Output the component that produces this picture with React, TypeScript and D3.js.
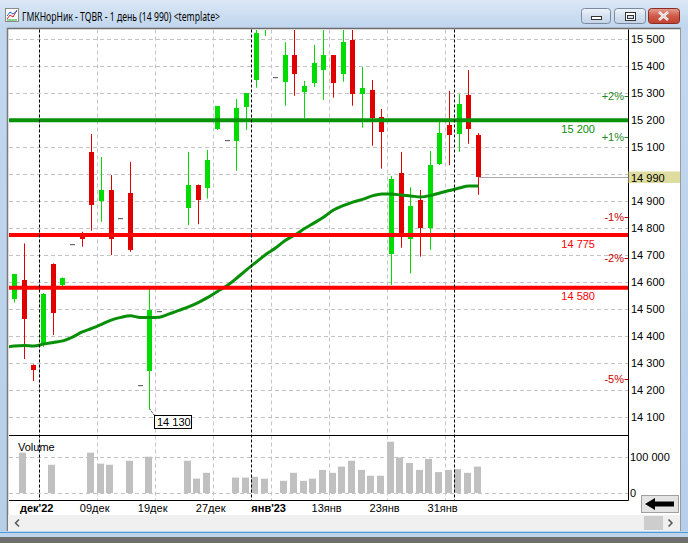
import React from "react";
import * as d3 from "d3";

// ---------- data ----------
const dates = [
  "2022-11-28", "2022-11-29", "2022-11-30", "2022-12-01", "2022-12-02", "2022-12-05", "2022-12-06",
  "2022-12-07", "2022-12-08", "2022-12-09", "2022-12-12", "2022-12-13", "2022-12-14", "2022-12-15",
  "2022-12-16", "2022-12-19", "2022-12-20", "2022-12-21", "2022-12-22", "2022-12-23", "2022-12-26",
  "2022-12-27", "2022-12-28", "2022-12-29", "2022-12-30", "2023-01-03", "2023-01-04", "2023-01-05",
  "2023-01-06", "2023-01-09", "2023-01-10", "2023-01-11", "2023-01-12", "2023-01-13", "2023-01-16",
  "2023-01-17", "2023-01-18", "2023-01-19", "2023-01-20", "2023-01-23", "2023-01-24", "2023-01-25",
  "2023-01-26", "2023-01-27", "2023-01-30", "2023-01-31", "2023-02-01", "2023-02-02", "2023-02-03",
];
const openPrices = [
  14538, 14608, 14294, 14371, 14668, 14590, 14742, 14771, 15083, 14902, 14942, 14837, 14931, 14220,
  14271, 14494, null, null, 14876, 14960, 14950, 15169, 15126, 15124, 15250, 15350, 15580, 15359,
  15343, 15442, 15306, 15339, 15387, 15442, 15373, 15497, 15299, 15312, 15212, 14704, 15005, 14761,
  14905, 14802, 15039, 15183, 15150, 15294, 15146,
];
const highPrices = [
  14631, 14744, 14296, 14560, 14670, 14618, 14742, 14787, 15149, 15064, 14997, 14837, 15046, 14220,
  14578, 14494, null, null, 15083, 14962, 15090, 15253, 15126, 15279, 15301, 15560, 15650, 15359,
  15489, 15600, 15346, 15479, 15600, 15442, 15600, 15600, 15397, 15349, 15242, 14994, 15083, 14952,
  14942, 15086, 15195, 15309, 15297, 15386, 15153,
];
const lowPrices = [
  14525, 14316, 14234, 14361, 14405, 14574, 14742, 14732, 14791, 14824, 14701, 14837, 14713, 14220,
  14130, 14494, null, null, 14812, 14815, 14910, 15164, 15126, 15013, 15164, 15321, 15512, 15359,
  15254, 15291, 15207, 15324, 15275, 15284, 15343, 15254, 15173, 15106, 15021, 14590, 14728, 14633,
  14695, 14720, 15034, 15034, 15083, 15113, 14924,
];
const closePrices = [
  14631, 14465, 14276, 14557, 14487, 14616, 14742, 14759, 14887, 14942, 14760, 14837, 14720, 14220,
  14497, 14494, null, null, 14960, 14906, 15053, 15253, 15126, 15246, 15301, 15523, 15620, 15359,
  15442, 15373, 15327, 15412, 15442, 15339, 15490, 15299, 15319, 15207, 15158, 14983, 14784, 14883,
  14802, 15034, 15153, 15146, 15260, 15169, 14990,
];
const volumes = [
  null, 111000, null, null, 78000, null, null, null, 111000, 81000, 78000, null, 89000, null,
  100000, null, null, null, 89000, 40000, 56000, null, null, 43000, 43000, 45000, 40000, null,
  34000, 56000, 34000, 40000, 64000, 56000, 73000, 89000, 64000, 48000, 48000, 141000, 98000, 83000,
  64000, 94000, 58000, 64000, 66000, 56000, 73000,
];
const maFirstIndex = -1;
const maValues = [
  14359, 14364, 14366, 14364, 14371, 14377, 14383, 14397, 14416, 14429, 14444, 14460, 14470, 14476,
  14470, 14470, 14471, 14483, 14496, 14509, 14525, 14544, 14566, 14588, 14616, 14646, 14675, 14703,
  14727, 14755, 14775, 14799, 14820, 14842, 14868, 14884, 14897, 14907, 14920, 14927, 14927, 14923,
  14920, 14916, 14921, 14931, 14940, 14949, 14957, 14957,
];
const levelPrices = [15200, 14775, 14580];
const percentOffsets = [2, 1, -1, -2, -5];
const lastPrice = 14990;
const dateTickIndex = [3, 9, 15, 21, 27, 33, 39, 45];
const dateTickLabels = ["дек'22", "09дек", "19дек", "27дек", "янв'23", "13янв", "23янв", "31янв"];
const dateTickBold = [true, false, false, false, true, false, false, false];
const volumeTicks = [0, 100000];
const titleText = "ГМКНорНик - TQBR - 1 день (14 990) <template>";

// ---------- helpers ----------
const fmt = d3.formatLocale({ decimal: ",", thousands: " ", grouping: [3], currency: ["", ""] }).format(",d");
const FONT = "'Liberation Sans', Arial, sans-serif";

const W = 688;
const H = 543;
const plotLeft = 9;
const plotRight = 628.5;
const priceTop = 29.5;
const priceBottom = 435.5;
const volBottom = 500.5;

export default function App() {
  const x = d3.scaleLinear().domain([0, dates.length - 1]).range([14.5, 478.5]);
  const step = x(1) - x(0);
  const y = d3.scaleLinear().domain([14100, 15500]).range([417.3, 39.3]);
  const yv = d3.scaleLinear().domain([0, 100000]).range([493.3, 456.7]);

  const priceTicks = y.ticks(14);
  const monthStarts = dates
    .map((d, i) => (i > 0 && d.slice(0, 7) !== dates[i - 1].slice(0, 7) ? i : -1))
    .filter((i) => i >= 0);

  const green = "#00dc00";
  const red = "#e00000";
  const gridColor = "#c4c4c4";

  const maLine = d3
    .line<number>()
    .x((_, k) => x(k + maFirstIndex))
    .y((v) => y(v))
    .curve(d3.curveMonotoneX);

  const lows = lowPrices.filter((v) => v != null) as number[];
  const minLow = d3.min(lows) as number;
  const minIdx = lowPrices.indexOf(minLow);

  const crisp = (v: number) => Math.round(v) + 0.5;

  return (
    <svg
      width={W}
      height={H}
      style={{ position: "absolute", left: 0, top: 0, display: "block" }}
      fontFamily={FONT}
    >
      <defs>
        <linearGradient id="titleGrad" x1="0" y1="0" x2="0" y2="1">
          <stop offset="0" stopColor="#dbe8f6" />
          <stop offset="1" stopColor="#bfd5ed" />
        </linearGradient>
        <linearGradient id="frameGrad" x1="0" y1="0" x2="0" y2="1">
          <stop offset="0" stopColor="#c3d8ef" />
          <stop offset="1" stopColor="#b6cfe9" />
        </linearGradient>
        <linearGradient id="btnGrad" x1="0" y1="0" x2="0" y2="1">
          <stop offset="0" stopColor="#eef3fa" />
          <stop offset="0.5" stopColor="#d5e1ef" />
          <stop offset="1" stopColor="#c3d3e8" />
        </linearGradient>
        <linearGradient id="closeGrad" x1="0" y1="0" x2="0" y2="1">
          <stop offset="0" stopColor="#e6a195" />
          <stop offset="0.5" stopColor="#cf5a48" />
          <stop offset="1" stopColor="#c2412f" />
        </linearGradient>
        <clipPath id="priceClip">
          <rect x={plotLeft} y={priceTop + 0.5} width={plotRight - plotLeft} height={priceBottom - priceTop - 1} />
        </clipPath>
        <clipPath id="volClip">
          <rect x={plotLeft} y={priceBottom + 0.5} width={plotRight - plotLeft} height={volBottom - priceBottom - 1} />
        </clipPath>
      </defs>

      {/* window frame */}
      <rect x={0} y={0} width={W} height={H} fill="url(#frameGrad)" />
      <rect x={0} y={0} width={W} height={28} fill="url(#titleGrad)" />
      {/* title icon */}
      <g>
        <rect x={5.5} y={8.5} width={13} height={13} fill="#fff" stroke="#8a8a8a" />
        <polyline points="7,19 10,15 13,17 17,10" fill="none" stroke="#d02020" strokeWidth={1} />
        <polyline points="7,16 10,12 13,14 17,11" fill="none" stroke="#2060d0" strokeWidth={1} />
        <line x1={7} y1={20} x2={17} y2={20} stroke="#20a020" />
      </g>
      <text x={22} y={21} fontSize={13} fontFamily="'Noto Sans', 'DejaVu Sans', sans-serif" fill="#000" textLength={198} lengthAdjust="spacingAndGlyphs">
        {titleText}
      </text>
      {/* window buttons */}
      <rect x={581.5} y={8.5} width={29} height={15} rx={3} fill="url(#btnGrad)" stroke="#7b8aa0" />
      <rect x={591.5} y={16.5} width={10} height={3} fill="#fff" stroke="#333" />
      <rect x={614.5} y={8.5} width={31} height={15} rx={3} fill="url(#btnGrad)" stroke="#7b8aa0" />
      <rect x={625.5} y={12.5} width={10} height={8} fill="#fff" stroke="#333" />
      <rect x={627.5} y={15.5} width={6} height={3} fill="#d5e1ef" stroke="#333" />
      <rect x={648.5} y={8.5} width={31} height={15} rx={3} fill="url(#closeGrad)" stroke="#8a2c20" />
      <path d="M659,12 L668,20 M668,12 L659,20" stroke="#fff" strokeWidth={2.6} />
      <path d="M659,12 L668,20 M668,12 L659,20" stroke="#555" strokeWidth={0.6} opacity={0.5} />

      {/* content area */}
      <rect x={7} y={28} width={674} height={503} fill="#fff" />
      <line x1={7} y1={28.5} x2={681} y2={28.5} stroke="#6c6c6c" strokeWidth={1.5} />
      <line x1={7.5} y1={28} x2={7.5} y2={531} stroke="#7a7a7a" strokeWidth={1.5} />
      <line x1={680.5} y1={28} x2={680.5} y2={531} stroke="#9a9a9a" />

      {/* horizontal price grid */}
      {priceTicks.map((v) => (
        <line key={"hg" + v} x1={plotLeft} x2={plotRight} y1={crisp(y(v))} y2={crisp(y(v))} stroke={gridColor} strokeDasharray="4 3" />
      ))}
      {/* volume grid */}
      {volumeTicks.map((v) => (
        <line key={"vg" + v} x1={plotLeft} x2={plotRight} y1={crisp(yv(v))} y2={crisp(yv(v))} stroke={gridColor} strokeDasharray="4 3" />
      ))}
      {/* vertical grid */}
      {dateTickIndex.map((i) => {
        const gx = crisp(x(i) - step / 2);
        return <line key={"vgx" + i} x1={gx} x2={gx} y1={priceTop} y2={volBottom} stroke={gridColor} strokeDasharray="4 3" />;
      })}

      {/* volume bars */}
      <g clipPath="url(#volClip)">
        {volumes.map((v, i) =>
          v == null ? null : (
            <rect key={"vb" + i} x={Math.round(x(i)) - 5} y={yv(v)} width={7} height={493 - yv(v)} fill="#c0c0c0" />
          )
        )}
      </g>
      <text x={18} y={451} fontSize={11} fill="#000">Volume</text>

      {/* candles */}
      <g clipPath="url(#priceClip)">
        {openPrices.map((o, i) => {
          if (o == null) return null;
          const h = highPrices[i] as number;
          const l = lowPrices[i] as number;
          const c = closePrices[i] as number;
          const cx = Math.floor(x(i));
          if (h === l) {
            return <rect key={"c" + i} x={cx - 2} y={Math.round(y(c))} width={5} height={1.2} fill="#6a6a6a" />;
          }
          const col = c >= o ? green : red;
          const top = Math.round(y(Math.max(o, c)));
          const bot = Math.round(y(Math.min(o, c)));
          return (
            <g key={"c" + i}>
              <rect x={cx} y={y(h)} width={1} height={y(l) - y(h)} fill={col} />
              <rect x={cx - 2} y={top} width={5} height={Math.max(1, bot - top)} fill={col} />
            </g>
          );
        })}
        {/* moving average */}
        <path d={maLine(maValues) || ""} fill="none" stroke="#078f07" strokeWidth={3} />
        {/* current price line */}
        <line x1={x(dates.length - 1)} x2={plotRight} y1={crisp(y(lastPrice))} y2={crisp(y(lastPrice))} stroke="#a8a8a8" />
        {/* levels */}
        {levelPrices.map((p) => (
          <line key={"lv" + p} x1={plotLeft} x2={plotRight} y1={y(p)} y2={y(p)} stroke={p > lastPrice ? "#089208" : "#ff0000"} strokeWidth={4} />
        ))}
      </g>

      {/* month separators */}
      {monthStarts.map((i) => {
        const mx = crisp(x(i) - step / 2);
        return <line key={"ms" + i} x1={mx} x2={mx} y1={priceTop} y2={volBottom} stroke="#000" strokeDasharray="3 2" />;
      })}

      {/* level labels */}
      {levelPrices.map((p) => (
        <text key={"ll" + p} x={595} y={y(p) + 12.5} fontSize={11} textAnchor="end" fill={p > lastPrice ? "#0a8f0a" : "#ff0000"}>
          {fmt(p)}
        </text>
      ))}

      {/* percent labels */}
      {percentOffsets.map((pc) => {
        const py = y(lastPrice * (1 + pc / 100));
        const col = pc > 0 ? "#1f8a1f" : "#c80000";
        return (
          <g key={"pc" + pc}>
            <text x={624} y={py + 4} fontSize={11} textAnchor="end" fill={col}>
              {(pc > 0 ? "+" : "") + pc + "%"}
            </text>
            <line x1={624.5} x2={628} y1={crisp(py)} y2={crisp(py)} stroke={col} />
          </g>
        );
      })}

      {/* min label */}
      <line x1={x(minIdx)} y1={y(minLow)} x2={x(minIdx) + 4.5} y2={y(minLow) + 6} stroke="#000" strokeDasharray="1 1" />
      <rect x={Math.round(x(minIdx)) + 4.5} y={Math.round(y(minLow)) + 6.5} width={37} height={13} fill="#fff" stroke="#000" />
      <text x={Math.round(x(minIdx)) + 7} y={Math.round(y(minLow)) + 17} fontSize={11} fill="#000">
        {fmt(minLow)}
      </text>

      {/* panel frame lines */}
      <line x1={plotLeft} x2={plotRight} y1={priceBottom} y2={priceBottom} stroke="#000" />
      <line x1={plotLeft} x2={plotRight} y1={volBottom} y2={volBottom} stroke="#000" />
      <line x1={plotRight} x2={plotRight} y1={priceTop} y2={volBottom} stroke="#000" />

      {/* right price axis */}
      {priceTicks
        .filter((v) => Math.abs(y(v) - y(lastPrice)) > 10)
        .map((v) => (
          <text key={"pt" + v} x={631} y={y(v) + 4} fontSize={11} fill="#000">
            {fmt(v)}
          </text>
        ))}
      <rect x={628.5} y={Math.round(y(lastPrice)) - 5.5} width={51.5} height={11.5} fill="#dedc9e" />
      <text x={631} y={y(lastPrice) + 4.5} fontSize={11} fill="#000">
        {fmt(lastPrice)}
      </text>

      {/* volume axis */}
      {volumeTicks.map((v) => (
        <text key={"vt" + v} x={630} y={yv(v) + 4} fontSize={11} fill="#000">
          {fmt(v)}
        </text>
      ))}

      {/* date labels */}
      {dateTickIndex.map((i, k) => (
        <text
          key={"dl" + i}
          x={x(i) - step / 2 - 2}
          y={511.5}
          fontSize={11}
          textAnchor="middle"
          fontWeight={dateTickBold[k] ? "bold" : "normal"}
          fill="#000"
        >
          {dateTickLabels[k]}
        </text>
      ))}

      {/* arrow button */}
      <rect x={641.5} y={495.5} width={37} height={17} fill="#e4e4e4" stroke="#a0a0a0" />
      <path d="M645,504 L655,498 L655,501.5 L674,501.5 L674,506.5 L655,506.5 L655,510 Z" fill="#000" />

      {/* scrollbar */}
      <rect x={8} y={515} width={672} height={16} fill="#f0f0f0" />
      <path d="M19,519.5 L15.5,523 L19,526.5" fill="none" stroke="#555" strokeWidth={1.5} />
      <rect x={644} y={516} width={19} height={14} fill="#cdcdcd" />
      <path d="M668.5,519.5 L672,523 L668.5,526.5" fill="none" stroke="#555" strokeWidth={1.5} />

      {/* bottom frame */}
      <rect x={0} y={531} width={W} height={6} fill="#bed5ed" />
      <line x1={0} x2={W} y1={532.5} y2={532.5} stroke="#4d9ad6" />
      <rect x={0} y={537} width={W} height={6} fill="#6f6f6f" />
    </svg>
  );
}
